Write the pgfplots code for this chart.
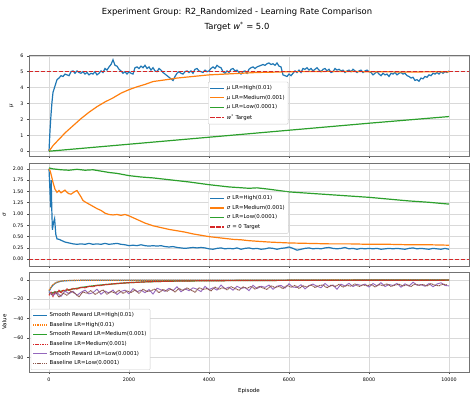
\documentclass[border=0pt]{standalone}
\usepackage{pgfplots}
\usepackage{pgfplotstable}
\pgfplotsset{compat=1.18}
\usepackage{fontspec}
\setmainfont{DejaVu Sans}
\definecolor{tblue}{RGB}{31,119,180}
\definecolor{torange}{RGB}{255,127,14}
\definecolor{tgreen}{RGB}{44,160,44}
\definecolor{tred}{RGB}{214,39,40}
\definecolor{tpurple}{RGB}{148,103,189}
\definecolor{tbrown}{RGB}{140,86,75}
% target lines (mu target 5, sigma target 0), written as dash pieces
\pgfplotstableread{
x mu sig
-500 5 0
-395 5 0
-395 nan nan
-350 5 0
-245 5 0
-245 nan nan
-200 5 0
-95 5 0
-95 nan nan
-50 5 0
55 5 0
55 nan nan
100 5 0
205 5 0
205 nan nan
250 5 0
355 5 0
355 nan nan
400 5 0
505 5 0
505 nan nan
550 5 0
655 5 0
655 nan nan
700 5 0
805 5 0
805 nan nan
850 5 0
955 5 0
955 nan nan
1000 5 0
1105 5 0
1105 nan nan
1150 5 0
1255 5 0
1255 nan nan
1300 5 0
1405 5 0
1405 nan nan
1450 5 0
1555 5 0
1555 nan nan
1600 5 0
1705 5 0
1705 nan nan
1750 5 0
1855 5 0
1855 nan nan
1900 5 0
2005 5 0
2005 nan nan
2050 5 0
2155 5 0
2155 nan nan
2200 5 0
2305 5 0
2305 nan nan
2350 5 0
2455 5 0
2455 nan nan
2500 5 0
2605 5 0
2605 nan nan
2650 5 0
2755 5 0
2755 nan nan
2800 5 0
2905 5 0
2905 nan nan
2950 5 0
3055 5 0
3055 nan nan
3100 5 0
3205 5 0
3205 nan nan
3250 5 0
3355 5 0
3355 nan nan
3400 5 0
3505 5 0
3505 nan nan
3550 5 0
3655 5 0
3655 nan nan
3700 5 0
3805 5 0
3805 nan nan
3850 5 0
3955 5 0
3955 nan nan
4000 5 0
4105 5 0
4105 nan nan
4150 5 0
4255 5 0
4255 nan nan
4300 5 0
4405 5 0
4405 nan nan
4450 5 0
4555 5 0
4555 nan nan
4600 5 0
4705 5 0
4705 nan nan
4750 5 0
4855 5 0
4855 nan nan
4900 5 0
5005 5 0
5005 nan nan
5050 5 0
5155 5 0
5155 nan nan
5200 5 0
5305 5 0
5305 nan nan
5350 5 0
5455 5 0
5455 nan nan
5500 5 0
5605 5 0
5605 nan nan
5650 5 0
5755 5 0
5755 nan nan
5800 5 0
5905 5 0
5905 nan nan
5950 5 0
6055 5 0
6055 nan nan
6100 5 0
6205 5 0
6205 nan nan
6250 5 0
6355 5 0
6355 nan nan
6400 5 0
6505 5 0
6505 nan nan
6550 5 0
6655 5 0
6655 nan nan
6700 5 0
6805 5 0
6805 nan nan
6850 5 0
6955 5 0
6955 nan nan
7000 5 0
7105 5 0
7105 nan nan
7150 5 0
7255 5 0
7255 nan nan
7300 5 0
7405 5 0
7405 nan nan
7450 5 0
7555 5 0
7555 nan nan
7600 5 0
7705 5 0
7705 nan nan
7750 5 0
7855 5 0
7855 nan nan
7900 5 0
8005 5 0
8005 nan nan
8050 5 0
8155 5 0
8155 nan nan
8200 5 0
8305 5 0
8305 nan nan
8350 5 0
8455 5 0
8455 nan nan
8500 5 0
8605 5 0
8605 nan nan
8650 5 0
8755 5 0
8755 nan nan
8800 5 0
8905 5 0
8905 nan nan
8950 5 0
9055 5 0
9055 nan nan
9100 5 0
9205 5 0
9205 nan nan
9250 5 0
9355 5 0
9355 nan nan
9400 5 0
9505 5 0
9505 nan nan
9550 5 0
9655 5 0
9655 nan nan
9700 5 0
9805 5 0
9805 nan nan
9850 5 0
9955 5 0
9955 nan nan
10000 5 0
10105 5 0
10105 nan nan
10150 5 0
10255 5 0
10255 nan nan
10300 5 0
10405 5 0
10405 nan nan
10450 5 0
10500 5 0
}\targettab
\pgfplotsset{
 common/.style={
  scale only axis, width=440pt, xmin=-500, xmax=10500,
  axis line style={black!55},
  grid=major, grid style={black!15, line width=0.5pt},
  tick align=outside, xtick pos=bottom, ytick pos=left,
  tick style={black!70, line width=0.5pt},
  major tick length=2pt,
  scaled x ticks=false,
  unbounded coords=jump,
  xtick={0,2000,4000,6000,8000,10000},
  ticklabel style={font=\fontsize{4.8}{6}\selectfont},
  label style={font=\fontsize{5.5}{6}\selectfont},
  /pgf/number format/assume math mode=true,
  legend cell align=left,
  legend style={font=\fontsize{5.4}{6.5}\selectfont, draw=black!20, fill=white, rounded corners=1pt, inner sep=1.5pt, row sep=0pt},
  legend image code/.code={\draw[##1] (0pt,0pt) -- (14pt,0pt);},
  every axis plot/.append style={line width=1.2pt},
 },
 targetline/.style={color=tred, line width=1.2pt,
   legend image code/.code={\draw[tred, line width=1.2pt] (0pt,0pt) -- (4.2pt,0pt) (6pt,0pt) -- (10.2pt,0pt) (12pt,0pt) -- (14pt,0pt);}},
}
\begin{document}
\begin{tikzpicture}
\path[use as bounding box] (0pt,0pt) rectangle (474pt,395pt);
\node[font=\fontsize{8.4}{10}\selectfont] at (237pt,383pt) {Experiment Group: R2\_Randomized - Learning Rate Comparison};
\node[font=\fontsize{8.4}{10}\selectfont] at (237pt,368pt) {Target \textit{w}\textsuperscript{*} = 5.0};

% ---------- top: mu ----------
\begin{axis}[common, at={(29pt,239pt)}, anchor=south west, height=101pt,
  ymin=-0.3, ymax=6.05, ytick={0,1,2,3,4,5,6}, xticklabels={},
  ylabel={\textit{μ}},
  legend style={at={(0.407,0.735)}, anchor=north west}]
\addplot[color=tblue] table {
0 0
25 1.3
50 2.3
75 3.1
100 3.7
125 3.9
150 4.1
175 4.3
200 4.5
250 4.6
300 4.75
350 4.7
400 4.85
450 4.8
500 4.75
550 5.0
600 5.05
650 4.9
700 5.05
750 4.95
800 4.9
850 5.0
900 4.85
950 4.95
1000 4.8
1050 4.9
1100 4.85
1150 5.0
1200 4.8
1250 4.9
1300 5.05
1350 4.95
1400 5.2
1450 5.1
1500 5.3
1550 5.45
1600 5.75
1650 5.4
1700 5.35
1750 5.15
1800 5.05
1850 4.9
1900 5.0
1950 4.85
2000 5.0
2050 4.9
2100 4.85
2150 5.25
2200 5.3
2250 5.2
2300 5.35
2350 5.25
2400 5.4
2450 5.2
2500 5.3
2550 5.1
2600 5.25
2650 5.05
2700 5.0
2750 5.2
2800 5.1
2850 4.95
2900 4.85
2950 4.75
3000 4.65
3050 4.55
3100 4.45
3150 4.7
3200 4.9
3250 5.0
3300 4.9
3350 4.85
3400 5.0
3450 5.05
3500 4.95
3550 5.05
3600 4.9
3650 5.15
3700 5.2
3750 5.05
3800 5.0
3850 4.95
3900 5.1
3950 5.0
4000 5.05
4050 5.2
4100 5.3
4150 5.2
4200 5.4
4250 5.3
4300 5.25
4350 5.0
4400 4.9
4450 5.05
4500 4.95
4550 5.15
4600 5.2
4650 5.05
4700 5.1
4750 4.95
4800 4.85
4850 5.0
4900 5.05
4950 4.9
5000 5.15
5050 5.25
5100 5.3
5150 5.2
5200 5.3
5250 5.35
5300 5.4
5350 5.45
5400 5.4
5450 5.5
5500 5.55
5550 5.45
5600 5.5
5650 5.4
5700 5.55
5750 5.35
5800 5.3
5850 4.8
5900 4.75
5950 4.7
6000 4.85
6050 4.75
6100 4.9
6150 5.05
6200 4.95
6250 5.1
6300 4.95
6350 5.2
6400 5.15
6450 5.25
6500 5.1
6550 5.2
6600 5.05
6650 5.15
6700 5.25
6750 5.1
6800 5.0
6850 5.15
6900 5.2
6950 5.05
7000 5.15
7050 4.95
7100 5.0
7150 5.2
7200 5.1
7250 5.15
7300 5.05
7350 5.1
7400 4.95
7450 5.05
7500 5.1
7550 5.0
7600 5.15
7650 5.05
7700 4.95
7750 5.05
7800 5.1
7850 4.95
7900 5.05
7950 5.1
8000 5.0
8050 4.95
8100 4.8
8150 4.9
8200 5.0
8250 4.85
8300 4.75
8350 4.9
8400 4.8
8450 4.85
8500 4.7
8550 4.9
8600 4.85
8650 4.95
8700 4.8
8750 4.9
8800 4.95
8850 4.85
8900 4.9
8950 4.75
9000 4.7
9050 4.6
9100 4.65
9150 4.45
9200 4.5
9250 4.4
9300 4.6
9350 4.55
9400 4.7
9450 4.65
9500 4.8
9550 4.75
9600 4.9
9650 4.85
9700 4.95
9750 4.85
9800 5.0
9850 4.9
9900 5.0
9950 4.95
10000 5.05
};
\addlegendentry{\textit{μ} LR=High(0.01)}
\addplot[color=torange] table {
0 0
100 0.35
200 0.62
300 0.88
400 1.15
600 1.6
800 2.05
1000 2.45
1200 2.8
1400 3.1
1600 3.35
1800 3.65
2000 3.87
2200 4.05
2400 4.2
2600 4.38
2800 4.45
3000 4.52
3200 4.6
3400 4.65
3600 4.7
3800 4.75
4000 4.8
4400 4.85
4800 4.9
5200 4.95
5600 4.97
6000 5.0
7000 5.02
8000 5.0
9000 4.98
10000 5.0
};
\addlegendentry{\textit{μ} LR=Medium(0.001)}
\addplot[color=tgreen] table {
0 0
2000 0.44
4000 0.88
6000 1.32
8000 1.76
10000 2.18
};
\addlegendentry{\textit{μ} LR=Low(0.0001)}
\addplot[targetline] table[x=x, y=mu] {\targettab};
\addlegendentry{\textit{w}\textsuperscript{*} Target}
\end{axis}

% ---------- middle: sigma ----------
\begin{axis}[common, at={(29pt,129pt)}, anchor=south west, height=103pt,
  ymin=-0.15, ymax=2.13, ytick={0,0.25,0.5,0.75,1,1.25,1.5,1.75,2}, xticklabels={},
  yticklabel style={/pgf/number format/.cd, fixed, fixed zerofill, precision=2},
  ylabel={\textit{σ}},
  legend style={at={(0.407,0.72)}, anchor=north west}]
\addplot[color=tblue] table {
0 2.0
20 1.6
40 1.15
55 1.75
70 1.1
85 0.65
110 0.8
140 0.9
170 0.55
200 0.45
250 0.44
300 0.42
400 0.38
500 0.36
600 0.34
700 0.33
800 0.34
900 0.33
1000 0.35
1100 0.33
1200 0.34
1300 0.33
1400 0.35
1500 0.33
1600 0.34
1700 0.35
1800 0.33
1900 0.32
2000 0.30
2100 0.31
2200 0.30
2300 0.32
2400 0.30
2500 0.29
2600 0.30
2700 0.29
2800 0.30
2900 0.28
3000 0.27
3100 0.28
3200 0.26
3300 0.25
3400 0.24
3500 0.25
3600 0.26
3700 0.25
3800 0.26
3900 0.25
4000 0.23
4100 0.22
4200 0.24
4300 0.25
4400 0.23
4500 0.24
4600 0.23
4700 0.25
4800 0.22
4900 0.24
5000 0.25
5100 0.23
5200 0.24
5300 0.22
5400 0.23
5500 0.25
5600 0.24
5700 0.22
5800 0.24
5900 0.25
6000 0.27
6100 0.24
6200 0.20
6300 0.22
6400 0.24
6500 0.25
6600 0.23
6700 0.24
6800 0.23
6900 0.25
7000 0.26
7100 0.24
7200 0.23
7300 0.24
7400 0.26
7500 0.23
7600 0.24
7700 0.22
7800 0.24
7900 0.23
8000 0.24
8100 0.23
8200 0.24
8300 0.22
8400 0.23
8500 0.24
8600 0.23
8700 0.24
8800 0.23
8900 0.22
9000 0.24
9100 0.25
9200 0.23
9300 0.24
9400 0.23
9500 0.22
9600 0.24
9700 0.23
9800 0.22
9900 0.24
10000 0.22
};
\addlegendentry{\textit{σ} LR=High(0.01)}
\addplot[color=torange] table {
0 2.0
30 1.95
60 1.85
100 1.7
150 1.55
200 1.48
250 1.52
300 1.47
350 1.5
400 1.53
450 1.48
500 1.45
550 1.44
600 1.47
650 1.5
700 1.52
750 1.45
800 1.38
850 1.3
900 1.27
1000 1.22
1100 1.17
1200 1.12
1300 1.08
1400 1.02
1500 0.99
1600 0.98
1700 0.99
1800 0.97
1900 0.99
2000 0.96
2100 0.92
2200 0.88
2300 0.84
2400 0.80
2500 0.77
2600 0.74
2700 0.72
2800 0.70
2900 0.68
3000 0.66
3200 0.63
3400 0.60
3600 0.56
3800 0.53
4000 0.50
4200 0.48
4400 0.46
4600 0.44
4800 0.43
5000 0.41
5500 0.38
6000 0.36
6500 0.35
7000 0.34
7500 0.34
8000 0.33
8500 0.33
9000 0.32
9500 0.32
10000 0.31
};
\addlegendentry{\textit{σ} LR=Medium(0.001)}
\addplot[color=tgreen] table {
0 2.02
100 2.0
300 1.98
500 1.97
700 1.99
900 1.97
1100 1.98
1300 1.95
1500 1.92
1700 1.90
2000 1.85
2300 1.82
2600 1.80
3000 1.76
3500 1.71
4000 1.65
4500 1.60
5000 1.57
5200 1.58
5500 1.55
6000 1.49
6500 1.46
7000 1.43
7500 1.40
8000 1.37
8500 1.33
9000 1.29
9500 1.26
10000 1.22
};
\addlegendentry{\textit{σ} LR=Low(0.0001)}
\addplot[targetline] table[x=x, y=sig] {\targettab};
\addlegendentry{\textit{σ} = 0 Target}
\end{axis}

% ---------- bottom: rewards ----------
\begin{axis}[common, at={(29pt,23pt)}, anchor=south west, height=100pt,
  ymin=-95, ymax=8, ytick={-80,-60,-40,-20,0},
  yticklabels={−80,−60,−40,−20,0},
  xticklabels={0,2000,4000,6000,8000,10000},
  xlabel={Episode}, ylabel={Value},
  legend style={at={(0.004,0.02)}, anchor=south west}]
\addplot[color=tblue] table {
0 -12
50 -8
100 -5.5
150 -3.8
200 -2.7
250 -2.0
300 -1.5
400 -1.0
600 -0.7
1000 -0.5
10000 -0.3
};
\addlegendentry{Smooth Reward LR=High(0.01)}
\addplot[color=torange, line width=1.2pt, dash pattern=on 1.2pt off 1pt] table {
0 -11
50 -7.5
100 -5
150 -3.5
200 -2.5
300 -1.4
400 -0.9
600 -0.6
1000 -0.45
10000 -0.3
};
\addlegendentry{Baseline LR=High(0.01)}
\addplot[color=tgreen] table {
0 -14
200 -12.5
400 -11
600 -9.5
800 -8
1000 -6.8
1200 -5.8
1400 -5
1600 -4.3
1800 -3.6
2000 -3.0
2400 -2.2
2800 -1.7
3000 -1.5
4000 -1.0
6000 -0.6
10000 -0.4
};
\addlegendentry{Smooth Reward LR=Medium(0.001)}
\addplot[color=tred, line width=1.2pt, dash pattern=on 1.2pt off 0.5pt] table {
0 -16
50 -13
100 -17
150 -12.5
200 -14
250 -11
300 -13.5
350 -10.5
400 -12
450 -9.5
500 -11
600 -9
700 -9.5
800 -7.8
900 -8.2
1000 -6.8
1100 -7
1200 -5.8
1300 -5.9
1400 -5
1500 -4.8
1600 -4.2
1800 -3.6
2000 -3.0
2200 -2.6
2400 -2.2
2600 -1.9
2800 -1.7
3000 -1.5
3500 -1.2
4000 -1.0
5000 -0.8
6000 -0.6
8000 -0.5
10000 -0.4
};
\addlegendentry{Baseline LR=Medium(0.001)}
\addplot[color=tpurple, line width=0.9pt] table {
0 -12.8
100 -16.0
200 -13.3
300 -17.1
400 -11.6
500 -14.3
600 -11.9
700 -16.0
800 -12.9
900 -10.7
1000 -14.6
1100 -13.3
1200 -9.7
1300 -14.9
1400 -11.7
1500 -13.6
1600 -10.6
1700 -15.3
1800 -12.0
1900 -10.7
2000 -14.5
2100 -9.2
2200 -12.3
2300 -10.7
2400 -13.3
2500 -10.1
2600 -14.7
2700 -8.7
2800 -10.4
2900 -11.9
3000 -8.8
3100 -11.2
3200 -7.3
3300 -12.4
3400 -9.3
3500 -11.3
3600 -8.3
3700 -9.7
3800 -12.2
3900 -6.8
4000 -10.2
4100 -8.3
4200 -10.7
4300 -5.5
4400 -9.2
4500 -7.6
4600 -10.7
4700 -6.7
4800 -8.9
4900 -8.0
5000 -11.2
5100 -5.7
5200 -9.1
5300 -6.7
5400 -7.8
5500 -5.5
5600 -9.8
5700 -6.6
5800 -5.8
5900 -8.6
6000 -4.2
6100 -7.6
6200 -7.9
6300 -5.1
6400 -9.4
6500 -6.1
6600 -4.5
6700 -6.7
6800 -8.2
6900 -3.8
7000 -7.1
7100 -5.4
7200 -9.8
7300 -4.6
7400 -6.4
7500 -3.7
7600 -7.0
7700 -4.7
7800 -5.8
7900 -4.5
8000 -7.5
8100 -3.9
8200 -6.3
8300 -3.0
8400 -7.0
8500 -5.0
8600 -5.8
8700 -3.8
8800 -7.6
8900 -4.2
9000 -6.5
9100 -2.5
9200 -5.6
9300 -5.0
9400 -6.7
9500 -3.9
9600 -7.2
9700 -4.4
9800 -3.1
9900 -5.9
10000 -6.3
};
\addlegendentry{Smooth Reward LR=Low(0.0001)}
\addplot[color=tbrown, line width=1pt, dash pattern=on 1.2pt off 0.6pt] table {
50 -15.5
150 -12.0
250 -18.0
350 -13.8
450 -15.9
550 -11.8
650 -14.2
750 -17.5
850 -12.5
950 -14.0
1050 -11.0
1150 -15.2
1250 -12.6
1350 -10.4
1450 -14.8
1550 -12.0
1650 -13.7
1750 -10.9
1850 -14.1
1950 -11.5
2050 -13.2
2150 -10.5
2250 -13.9
2350 -9.8
2450 -12.1
2550 -11.3
2650 -9.5
2750 -13.4
2850 -10.0
2950 -11.8
3050 -9.4
3150 -12.5
3250 -9.0
3350 -11.0
3450 -8.5
3550 -10.6
3650 -12.8
3750 -8.2
3850 -10.0
3950 -9.1
4050 -11.4
4150 -7.6
4250 -9.7
4350 -8.1
4450 -10.3
4550 -7.2
4650 -9.0
4750 -10.8
4850 -7.4
4950 -8.8
5050 -6.9
5150 -9.5
5250 -7.0
5350 -8.4
5450 -10.1
5550 -6.2
5650 -8.0
5750 -6.8
5850 -9.0
5950 -5.9
6050 -7.6
6150 -5.8
6250 -8.9
6350 -6.3
6450 -7.4
6550 -5.2
6650 -7.9
6750 -6.0
6850 -5.4
6950 -8.3
7050 -5.6
7150 -6.9
7250 -4.8
7350 -7.5
7450 -5.9
7550 -6.6
7650 -4.4
7750 -7.0
7850 -5.3
7950 -6.2
8050 -4.9
8150 -7.3
8250 -5.0
8350 -6.1
8450 -4.2
8550 -6.8
8650 -5.5
8750 -4.6
8850 -6.4
8950 -5.1
9050 -7.0
9150 -4.3
9250 -5.8
9350 -4.9
9450 -6.5
9550 -4.0
9650 -5.7
9750 -6.2
9850 -4.5
9950 -5.3
};
\addlegendentry{Baseline LR=Low(0.0001)}
\end{axis}
\end{tikzpicture}
\end{document}
